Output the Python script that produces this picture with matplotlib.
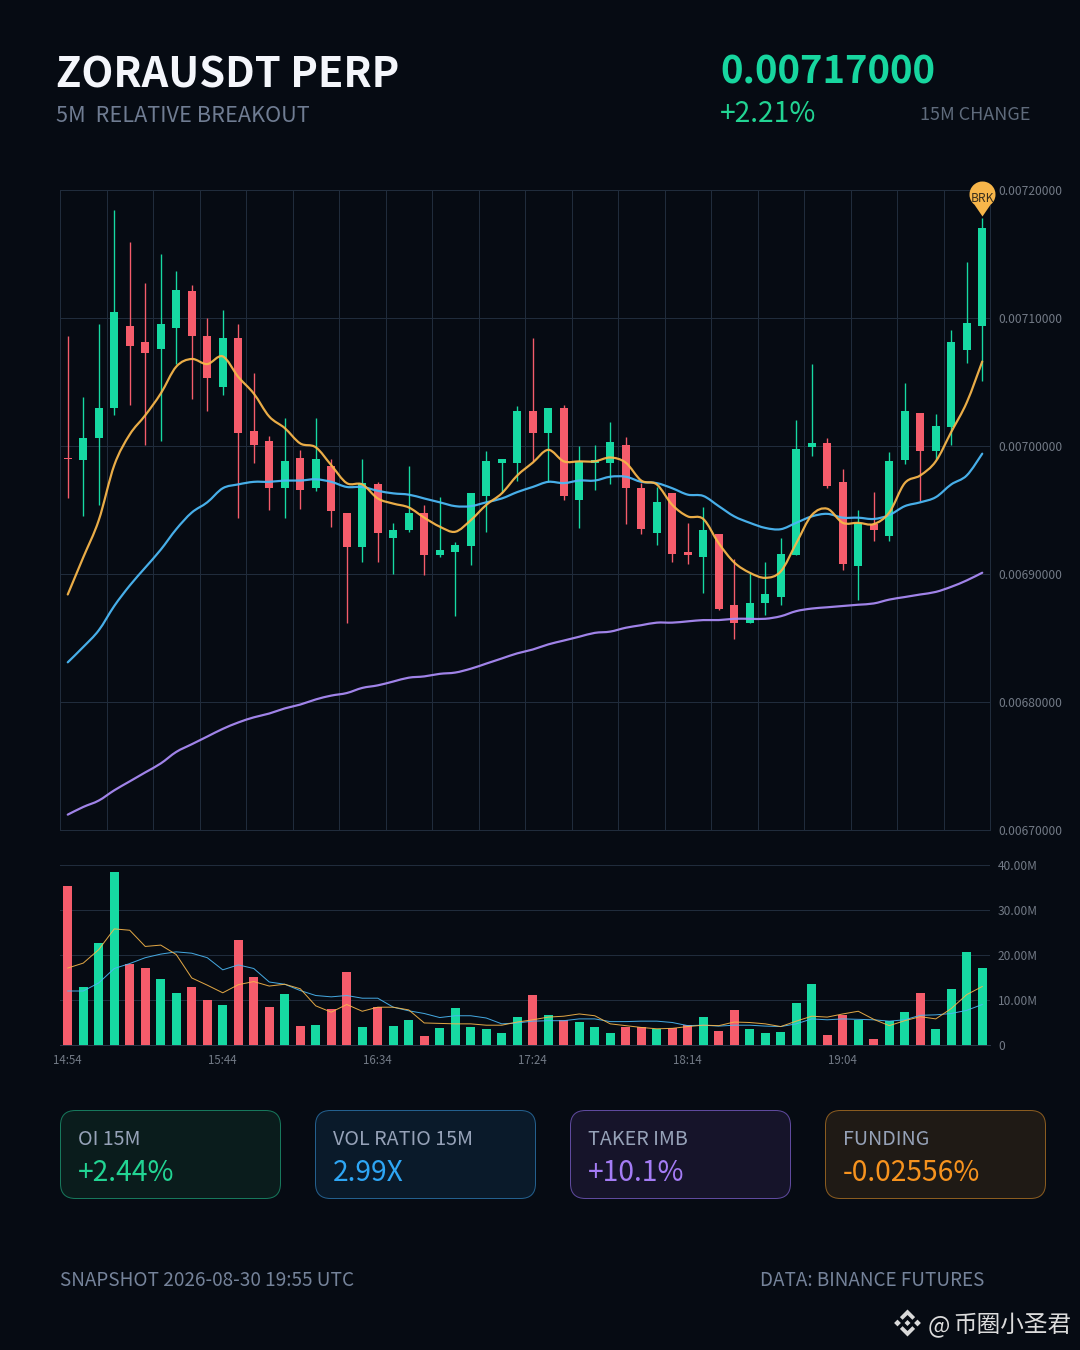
"""ZORAUSDT perp breakout card: 5m candles, moving averages, volume and stat tiles."""

import numpy as np

import matplotlib

matplotlib.use("Agg")
import matplotlib.pyplot as plt
from matplotlib.patches import FancyBboxPatch, PathPatch, Polygon
from matplotlib.path import Path

plt.rcParams["font.family"] = ["Noto Sans CJK SC", "DejaVu Sans"]

BG = "#060b13"
GRID = "#202c3c"
GREEN = "#16d9a2"
RED = "#f55c6b"
ORANGE = "#f7b64a"
BLUE = "#4bb8f5"
PURPLE = "#a98af5"
TICK = "#727a86"

# price values are in units of 1e-6
UNIT = 1e-6
OPEN = [6991, 6989, 7006, 7030, 7094, 7081, 7076, 7092, 7121, 7086, 7046, 7084,
        7012, 7004, 6967, 6991, 6967, 6984, 6948, 6921, 6970, 6928, 6934, 6948,
        6915, 6917, 6922, 6961, 6987, 6987, 7027, 7010, 7030, 6958, 6987, 6987,
        7001, 6967, 6932, 6963, 6917, 6913, 6931, 6876, 6862, 6877, 6882, 6915,
        6999, 7002, 6972, 6906, 6939, 6930, 6989, 7026, 6996, 7015, 7075, 7094]
CLOSE = [6990, 7006, 7030, 7105, 7078, 7073, 7095, 7122, 7086, 7053, 7084, 7010,
         7001, 6967, 6988, 6966, 6990, 6949, 6921, 6971, 6932, 6934, 6948, 6915,
         6919, 6923, 6963, 6988, 6990, 7027, 7010, 7030, 6961, 6988, 6989, 7003,
         6967, 6935, 6956, 6916, 6915, 6934, 6873, 6862, 6877, 6884, 6916, 6998,
         7002, 6969, 6908, 6940, 6934, 6988, 7027, 6996, 7016, 7081, 7096, 7170]
HIGH = [7086, 7038, 7095, 7184, 7159, 7127, 7150, 7137, 7126, 7100, 7106, 7095,
        7057, 7008, 7022, 6997, 7022, 6990, 6948, 6990, 6972, 6940, 6984, 6954,
        6960, 6925, 6963, 6996, 6990, 7031, 7084, 7030, 7032, 7000, 7001, 7019,
        7007, 6971, 6968, 6963, 6940, 6952, 6931, 6912, 6901, 6909, 6928, 7020,
        7064, 7006, 6982, 6950, 6964, 6995, 7049, 7026, 7025, 7091, 7144, 7178]
LOW = [6959, 6945, 6954, 7024, 7032, 7001, 7004, 7064, 7037, 7027, 7040, 6944,
       6987, 6950, 6944, 6951, 6965, 6937, 6862, 6909, 6909, 6900, 6933, 6899,
       6913, 6867, 6907, 6933, 6963, 6973, 6988, 6972, 6958, 6936, 6966, 6970,
       6939, 6931, 6923, 6909, 6908, 6885, 6872, 6849, 6862, 6868, 6876, 6915,
       6992, 6967, 6903, 6880, 6926, 6926, 6986, 6957, 6990, 7001, 7065, 7051]
MA_FAST = [6884, 6913, 6942, 6985, 7009, 7024, 7041, 7062, 7068, 7064, 7070, 7054,
           7041, 7023, 7014, 7002, 6999, 6985, 6971, 6970, 6959, 6955, 6952, 6944,
           6937, 6933, 6942, 6954, 6963, 6977, 6987, 6997, 6988, 6988, 6988, 6991,
           6987, 6973, 6970, 6954, 6945, 6943, 6924, 6909, 6901, 6897, 6902, 6924,
           6946, 6951, 6940, 6940, 6939, 6948, 6971, 6977, 6988, 7011, 7034, 7066]
MA_MID = [6831, 6843, 6856, 6875, 6891, 6905, 6919, 6935, 6948, 6956, 6967, 6970,
          6972, 6972, 6973, 6973, 6974, 6972, 6968, 6968, 6965, 6963, 6962, 6959,
          6956, 6953, 6953, 6956, 6959, 6964, 6968, 6972, 6971, 6973, 6973, 6976,
          6976, 6972, 6971, 6967, 6962, 6961, 6953, 6945, 6940, 6936, 6935, 6940,
          6945, 6947, 6944, 6944, 6943, 6946, 6953, 6956, 6960, 6970, 6977, 6994]
MA_SLOW = [6712, 6718, 6723, 6731, 6738, 6745, 6752, 6761, 6767, 6773, 6779, 6784,
           6788, 6791, 6795, 6798, 6802, 6805, 6807, 6811, 6813, 6816, 6819, 6820,
           6822, 6823, 6826, 6830, 6834, 6838, 6841, 6845, 6848, 6851, 6854, 6855,
           6858, 6860, 6862, 6862, 6863, 6864, 6864, 6865, 6865, 6865, 6867, 6871,
           6873, 6874, 6875, 6876, 6877, 6880, 6882, 6884, 6886, 6890, 6895, 6901]
PIN_PRICE = 7180

# volume in millions
VOLUME = [35.4, 12.8, 22.7, 38.4, 17.9, 17.1, 14.7, 11.6, 12.9, 9.9, 9.0, 23.3,
          15.1, 8.4, 11.3, 4.2, 4.4, 8.1, 16.3, 3.9, 8.4, 4.2, 5.6, 2.0, 3.7, 8.2,
          4.1, 3.6, 2.7, 6.3, 11.2, 6.6, 5.5, 5.2, 4.0, 2.7, 4.1, 4.1, 3.5, 3.8,
          4.4, 6.2, 3.1, 7.8, 3.5, 2.6, 3.0, 9.3, 13.6, 2.3, 6.7, 5.5, 1.3, 5.3,
          7.3, 11.6, 3.6, 12.4, 20.7, 17.1]
VOL_MA_FAST = [17.1, 18.2, 21.2, 25.8, 25.5, 21.9, 22.2, 20.1, 14.9, 13.3, 11.6,
               13.4, 14.1, 13.1, 13.5, 12.5, 8.7, 7.3, 9.0, 7.5, 8.4, 8.4, 7.8, 4.9,
               4.8, 4.7, 4.7, 4.4, 4.4, 5.1, 5.6, 6.2, 6.4, 6.9, 6.5, 4.7, 4.3, 3.9,
               3.6, 3.7, 4.1, 4.4, 4.3, 5.1, 5.0, 4.7, 4.1, 5.3, 6.4, 6.2, 6.9, 7.5,
               5.7, 4.3, 5.4, 6.3, 5.8, 8.1, 11.2, 13.0]
VOL_MA_SLOW = [12.0, 12.0, 13.8, 17.0, 18.1, 19.4, 20.2, 20.7, 20.4, 19.4, 16.7,
               17.8, 17.0, 14.0, 13.5, 12.1, 11.0, 10.7, 11.0, 10.4, 10.4, 8.4, 7.6,
               7.0, 6.1, 6.5, 6.5, 6.0, 4.7, 4.9, 5.3, 5.4, 5.4, 5.8, 5.8, 5.2, 5.2,
               5.3, 5.3, 5.0, 4.3, 4.4, 4.2, 4.4, 4.4, 4.2, 4.1, 4.7, 5.8, 5.6, 5.8,
               5.7, 5.6, 5.3, 5.6, 6.6, 6.7, 7.0, 7.7, 9.0]
TIME_LABELS = ["14:54", "15:44", "16:34", "17:24", "18:14", "19:04"]
VOLUME_TICKS = [0, 10, 20, 30, 40]
VOLUME_LABELS = ["0", "10.00M", "20.00M", "30.00M", "40.00M"]
PRICE_TICKS = [6700, 6800, 6900, 7000, 7100, 7200]

CARD_LABELS = ["OI 15M", "VOL RATIO 15M", "TAKER IMB", "FUNDING"]
CARD_VALUES = ["+2.44%", "2.99X", "+10.1%", "-0.02556%"]
CARD_VALUE_COLORS = ["#22d493", "#2ea6f5", "#a47cf5", "#f7931e"]
CARD_FILLS = ["#0a1c1c", "#0a1a2a", "#16142a", "#1f1a15"]
CARD_EDGES = ["#17785c", "#24608e", "#5f4a9e", "#8a5c20"]


def px(size):
    return size * 0.72


def axes_px(fig, left, top, right, bottom):
    return fig.add_axes([left / 1080, 1 - bottom / 1350,
                         (right - left) / 1080, (bottom - top) / 1350])


def smooth_line(ax, x, y, color):
    """Catmull-Rom through the points, same soft look as a smoothed chart line."""
    pts = np.column_stack([x, y]).astype(float)
    verts = [pts[0]]
    codes = [Path.MOVETO]
    for i in range(len(pts) - 1):
        before = pts[max(i - 1, 0)]
        after = pts[min(i + 2, len(pts) - 1)]
        verts += [pts[i] + (pts[i + 1] - before) / 6,
                  pts[i + 1] - (after - pts[i]) / 6,
                  pts[i + 1]]
        codes += [Path.CURVE4] * 3
    ax.add_patch(PathPatch(Path(verts, codes), fc="none", ec=color, lw=px(2.2),
                           capstyle="round", alpha=0.95, zorder=4))


def style_axes(ax):
    ax.set_facecolor(BG)
    ax.tick_params(length=0, labelcolor=TICK)
    ax.yaxis.tick_right()
    ax.set_axisbelow(True)


def draw_candles(ax):
    open_ = np.array(OPEN) * UNIT
    close = np.array(CLOSE) * UNIT
    x = np.arange(len(OPEN))
    colors = [GREEN if c >= o else RED for o, c in zip(OPEN, CLOSE)]
    ax.vlines(x, np.array(LOW) * UNIT, np.array(HIGH) * UNIT, colors=colors, lw=px(1.35), zorder=2)
    ax.bar(x, np.abs(close - open_), bottom=np.minimum(open_, close), width=0.52,
           color=colors, lw=0, zorder=3)
    smooth_line(ax, x, np.array(MA_SLOW) * UNIT, PURPLE)
    smooth_line(ax, x, np.array(MA_MID) * UNIT, BLUE)
    smooth_line(ax, x, np.array(MA_FAST) * UNIT, ORANGE)

    # pin with tip at the origin, drawn the size of the marker
    arc = Path.arc(-52, 232)
    pin = Path(np.vstack([arc.vertices * 13 + [0, 22], [[0, 0], [0, 0]]]),
               list(arc.codes) + [Path.LINETO, Path.CLOSEPOLY])
    ax.plot([x[-1]], [PIN_PRICE * UNIT], marker=pin, ms=px(70), mfc=ORANGE, mec="none",
            ls="none", clip_on=False, zorder=6)
    ax.annotate("BRK", (x[-1], PIN_PRICE * UNIT), xytext=(0, px(14)), textcoords="offset points",
                ha="center", va="baseline", fontsize=px(12), color="#3a2f1c", zorder=7,
                annotation_clip=False)

    ax.set_xlim(-0.5, len(OPEN) - 0.5)
    ax.set_ylim(0.0067, 0.0072)
    ax.set_xticks(np.arange(2.5, len(OPEN), 3))
    ax.set_xticklabels([])
    ticks = np.array(PRICE_TICKS) * UNIT
    ax.set_yticks(ticks)
    ax.set_yticklabels([f"{t:.8f}" for t in ticks], fontsize=px(12))
    ax.tick_params(axis="y", pad=px(8))
    ax.grid(color=GRID, lw=px(1))
    for spine in ax.spines.values():
        spine.set_color(GRID)
        spine.set_linewidth(px(1))


def draw_volume(ax):
    x = np.arange(len(VOLUME))
    colors = [GREEN if c >= o else RED for o, c in zip(OPEN, CLOSE)]
    ax.bar(x, VOLUME, width=0.56, color=colors, lw=0, zorder=2)
    ax.plot(x, VOL_MA_SLOW, color=BLUE, lw=px(1), alpha=0.9, zorder=3)
    ax.plot(x, VOL_MA_FAST, color=ORANGE, lw=px(1), alpha=0.9, zorder=4)
    ax.set_xlim(-0.5, len(VOLUME) - 0.5)
    ax.set_ylim(0, 40)
    ax.set_xticks(np.arange(0, len(VOLUME), 10))
    ax.set_xticklabels(TIME_LABELS, fontsize=px(11.5))
    ax.set_yticks(VOLUME_TICKS)
    ax.set_yticklabels(VOLUME_LABELS, fontsize=px(12))
    ax.tick_params(axis="y", pad=px(8))
    ax.tick_params(axis="x", pad=px(9))
    ax.grid(axis="y", color=GRID, lw=px(1))
    for name, spine in ax.spines.items():
        spine.set_visible(name == "bottom")
        spine.set_color("#2a3648")
        spine.set_linewidth(px(1))


def draw_logo(page, cx, cy, color="#d9d9d9"):
    # exchange logo next to the watermark
    diamonds = [(0, 0, 3.0), (-10, 0, 3.4), (10, 0, 3.4)]
    for dx, dy, r in diamonds:
        page.add_patch(Polygon([(cx + dx - r, cy + dy), (cx + dx, cy + dy - r),
                                (cx + dx + r, cy + dy), (cx + dx, cy + dy + r)], fc=color, lw=0))
    for sign in (-1, 1):
        page.add_patch(Polygon([(cx, cy + sign * 13.5), (cx + 7.6, cy + sign * 5.9),
                                (cx + 4.9, cy + sign * 3.2), (cx, cy + sign * 8.0),
                                (cx - 4.9, cy + sign * 3.2), (cx - 7.6, cy + sign * 5.9)],
                               fc=color, lw=0))


def draw_page(page):
    page.set_xlim(0, 1080)
    page.set_ylim(1350, 0)
    page.axis("off")

    def text(x, y, s, size, color, **kw):
        page.text(x, y, s, fontsize=px(size), color=color, va="baseline", **kw)

    text(56.3, 87, "ZORAUSDT PERP", 41.6, "#f4f6fb", fontweight="bold")
    text(56.5, 122.5, "5M  RELATIVE BREAKOUT", 21.7, "#6f7c92")
    text(720, 83, "0.00717000", 38.2, "#17d69f", fontweight="bold")
    text(720, 122, "+2.21%", 28.2, "#22d493")
    text(1030, 119.5, "15M CHANGE", 18, "#5f6b7c", ha="right")

    for i, left in enumerate([60, 315, 570, 825]):
        page.add_patch(FancyBboxPatch((left + 0.5, 1110.5), 220, 88,
                                      boxstyle="round,pad=0,rounding_size=15",
                                      fc=CARD_FILLS[i], ec=CARD_EDGES[i], lw=px(1)))
        text(left + 18, 1145, CARD_LABELS[i], 19.7, "#96a2b8")
        text(left + 18, 1181, CARD_VALUES[i], 28.2, CARD_VALUE_COLORS[i])

    text(60, 1286, "SNAPSHOT 2026-08-30 19:55 UTC", 19, "#75839a")
    text(760, 1286, "DATA: BINANCE FUTURES", 18.9, "#75839a")
    draw_logo(page, 907.5, 1323)
    text(928, 1332, "@", 23.6, "#dcdcdc")
    text(953, 1332, "币圈小圣君", 23.6, "#dcdcdc")


def main():
    fig = plt.figure(figsize=(10.8, 13.5), dpi=100, facecolor=BG)
    page = fig.add_axes([0, 0, 1, 1])
    draw_page(page)

    price_ax = axes_px(fig, 60, 190, 990, 830)
    style_axes(price_ax)
    draw_candles(price_ax)

    volume_ax = axes_px(fig, 60, 865, 990, 1045)
    style_axes(volume_ax)
    draw_volume(volume_ax)

    fig.savefig("out.png", dpi=100, facecolor=BG)
    plt.close(fig)


if __name__ == "__main__":
    main()
